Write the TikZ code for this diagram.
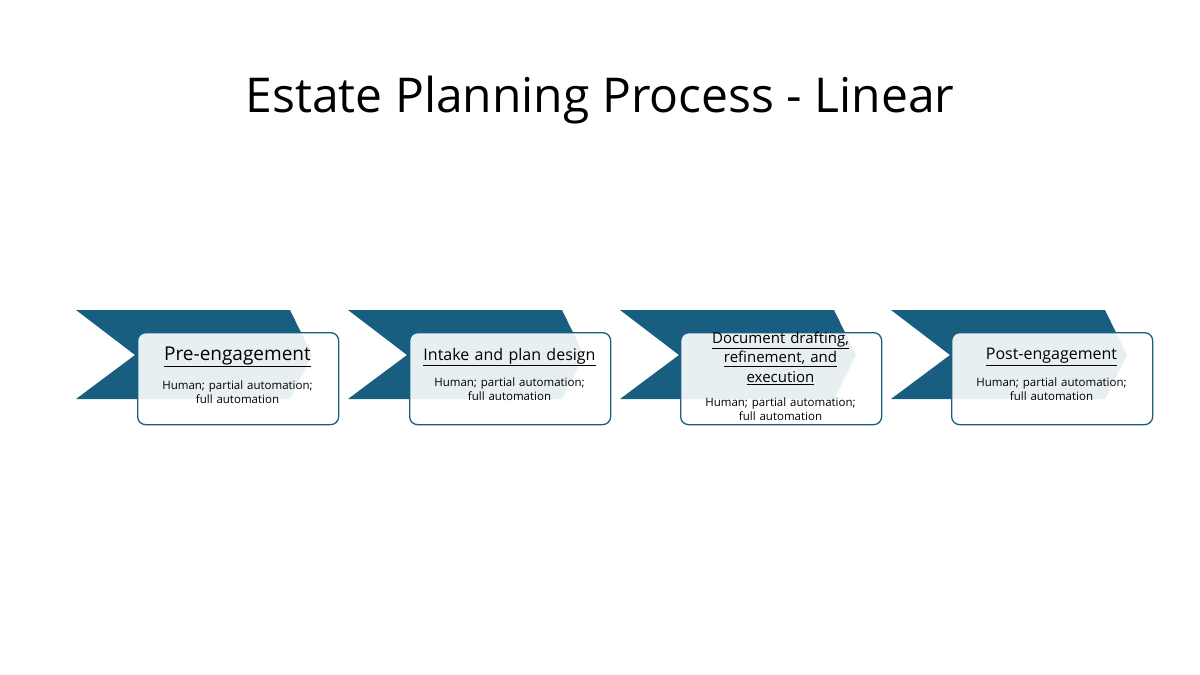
\documentclass[tikz,border=0pt]{standalone}
\usepackage{fontspec}
\setmainfont{Open Sans}
\definecolor{teal1}{RGB}{24,94,128}
\begin{document}
\begin{tikzpicture}[x=1pt,y=-1pt,
  chev/.style={fill=teal1},
  card/.style={draw=teal1,line width=1.3pt,rounded corners=8pt,fill=white,fill opacity=0.9,text opacity=1,minimum width=201pt,minimum height=92pt,anchor=north west,inner sep=0pt},
  ttl/.style={font=\fontsize{16}{18}\selectfont,align=center,text width=180pt},
  sub/.style={font=\fontsize{11.5}{14}\selectfont,align=center,text width=190pt}]
\useasboundingbox (0,0) rectangle (1200,675);
\node (title) at (600,100) {\fontsize{48}{56}\selectfont Estate Planning Process - Linear};
\foreach \i/\cx in {1/76,2/348,3/620,4/891}{
  \fill[chev] (\cx,310) -- ++(214,0) -- ++(22,45) -- ++(-22,44) -- ++(-214,0) -- ++(59,-44) -- cycle;
}
\node[card] (b1) at (137,332) {};
\node[card] (b2) at (409,332) {};
\node[card] (b3) at (680,332) {};
\node[card] (b4) at (951,332) {};
\node[ttl,font=\fontsize{19}{22}\selectfont] (t1) at (237.5,357) {\underline{Pre-engagement}};
\node[sub] (s1) at (237.5,392) {Human; partial automation;\\full automation};
\node[ttl] (t2) at (509.5,357) {\underline{Intake and plan design}};
\node[sub] (s2) at (509.5,389) {Human; partial automation;\\full automation};
\node[ttl,font=\fontsize{15}{19.5}\selectfont] (t3) at (780.5,358) {\underline{Document drafting,}\\\underline{refinement, and}\\\underline{execution}};
\node[sub] (s3) at (780.5,409) {Human; partial automation;\\full automation};
\node[ttl] (t4) at (1051.5,357) {\underline{Post-engagement}};
\node[sub] (s4) at (1051.5,389) {Human; partial automation;\\full automation};
\end{tikzpicture}
\end{document}
